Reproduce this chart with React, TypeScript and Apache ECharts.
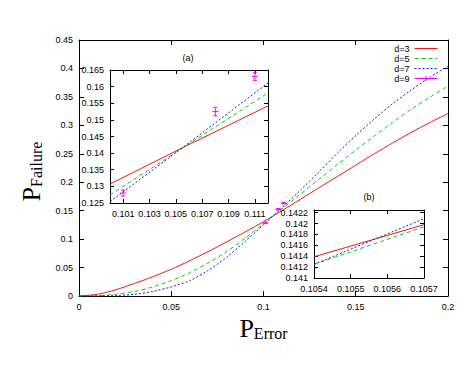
import React, { useEffect, useRef } from 'react';
import * as echarts from 'echarts';

// ---- data ----
const pError = [0, 0.01, 0.02, 0.03, 0.04, 0.05, 0.06, 0.07, 0.08, 0.09, 0.1, 0.11, 0.12, 0.13, 0.14, 0.15, 0.16, 0.17, 0.18, 0.19, 0.2];
const failD3 = [0, 0.003, 0.011, 0.022, 0.034, 0.047, 0.062, 0.078, 0.095, 0.1125, 0.1306, 0.15, 0.17, 0.19, 0.21, 0.23, 0.25, 0.269, 0.2875, 0.3045, 0.321];
const failD5 = [0, 0.0005, 0.003, 0.008, 0.016, 0.027, 0.041, 0.058, 0.078, 0.1015, 0.1274, 0.153, 0.179, 0.205, 0.231, 0.2565, 0.281, 0.305, 0.328, 0.349, 0.369];
const failD7 = [0, 0.0001, 0.0008, 0.003, 0.008, 0.016, 0.027, 0.045, 0.068, 0.096, 0.1254, 0.155, 0.186, 0.218, 0.251, 0.282, 0.311, 0.338, 0.362, 0.384, 0.404];

const d9P = [0.101, 0.108, 0.111];
const d9Fail = [0.128, 0.1525, 0.163];
const d9Err = [0.0009, 0.0013, 0.0012];

const insetAP = [0.1, 0.1055, 0.112];
const insetAD3 = [0.1307, 0.1416, 0.1542];
const insetAD5 = [0.1274, 0.1415, 0.1581];
const insetAD7 = [0.1254, 0.1416, 0.1611];

const insetBP = [0.1054, 0.1057];
const insetBD3 = [0.14139, 0.14198];
const insetBD5 = [0.14125, 0.14194];
const insetBD7 = [0.14125, 0.14209];

const insetAXTicks = [0.101, 0.103, 0.105, 0.107, 0.109, 0.111];
const insetBXTicks = [0.1054, 0.1055, 0.1056, 0.1057];
const insetBYTicks = [0.141, 0.1412, 0.1414, 0.1416, 0.1418, 0.142, 0.1422];

const seriesNames = ['d=3', 'd=5', 'd=7', 'd=9'];
const colors = ['#f01818', '#10cc10', '#1818f0', '#ff00ff'];
const dashes: any[] = ['solid', [4, 3], [2, 2]];

const zip = (xs: number[], ys: number[]) => xs.map((x, i) => [x, ys[i]]);

const labelFont = { color: '#000', fontSize: 9, fontFamily: 'Liberation Sans' };

const nameRich = {
  p: { fontFamily: 'Liberation Serif', fontSize: 26, color: '#000', verticalAlign: 'bottom', lineHeight: 26 },
  s: { fontFamily: 'Liberation Serif', fontSize: 16, color: '#000', verticalAlign: 'bottom', lineHeight: 10 },
};

function makeAxis(gridIndex: number, position: string, range: any, tickLen: number, custom?: number[], extra: any = {}) {
  const showLabel = position === 'bottom' || position === 'left';
  const axisLabel: any = { show: showLabel, margin: 6, ...labelFont };
  const axisTick: any = { show: true, inside: true, length: tickLen, lineStyle: { color: '#000', width: 1 } };
  if (custom) {
    axisLabel.customValues = custom;
    axisTick.customValues = custom;
  }
  return {
    type: 'value',
    gridIndex,
    position,
    ...range,
    axisLine: { show: true, onZero: false, lineStyle: { color: '#000', width: 1 } },
    axisTick,
    axisLabel,
    splitLine: { show: false },
    ...extra,
  };
}

function errorBarRender(params: any, api: any) {
  const x = api.value(0);
  const y = api.value(1);
  const e = api.value(2);
  const c = api.coord([x, y]);
  const t = api.coord([x, y + e]);
  const b = api.coord([x, y - e]);
  const st = { stroke: '#ff00ff', lineWidth: 1, fill: 'none' };
  return {
    type: 'group',
    children: [
      { type: 'line', shape: { x1: t[0], y1: t[1], x2: b[0], y2: b[1] }, style: st },
      { type: 'line', shape: { x1: t[0] - 2, y1: t[1], x2: t[0] + 2, y2: t[1] }, style: st },
      { type: 'line', shape: { x1: b[0] - 2, y1: b[1], x2: b[0] + 2, y2: b[1] }, style: st },
      { type: 'line', shape: { x1: c[0] - 3, y1: c[1], x2: c[0] + 3, y2: c[1] }, style: st },
    ],
  };
}

export default function App() {
  const ref = useRef<HTMLDivElement>(null);
  useEffect(() => {
    if (!ref.current) return;
    const chart = echarts.init(ref.current, null, { renderer: 'svg' });

    const mainX = { min: 0, max: 0.2, interval: 0.05 };
    const mainY = { min: 0, max: 0.45, interval: 0.05 };
    const aX = { min: 0.1, max: 0.112 };
    const aY = { min: 0.125, max: 0.165, interval: 0.005 };
    const bX = { min: 0.1054, max: 0.1057 };
    const bY = { min: 0.141, max: 0.14225 };

    const lineSeries = (name: string, idx: number, data: number[][], axisIdx: number, smooth: any) => ({
      type: 'line',
      name,
      xAxisIndex: axisIdx,
      yAxisIndex: axisIdx,
      data,
      symbol: 'none',
      smooth,
      clip: true,
      lineStyle: { color: colors[idx], width: 1, type: dashes[idx] },
      itemStyle: { color: colors[idx] },
      z: 3,
    });

    const d9Data = d9P.map((p, i) => [p, d9Fail[i], d9Err[i]]);

    const option: any = {
      animation: false,
      backgroundColor: '#fff',
      grid: [
        { left: 79, top: 40, width: 369, height: 256, containLabel: false },
        { left: 110, top: 70, width: 158, height: 133, show: true, backgroundColor: '#fff', borderWidth: 0, z: 5 },
        { left: 314, top: 210, width: 110, height: 68, show: true, backgroundColor: '#fff', borderWidth: 0, z: 5 },
      ],
      xAxis: [
        makeAxis(0, 'bottom', mainX, 5, undefined, {
          name: '{p|P}{s|Error}',
          nameLocation: 'middle',
          nameGap: 6,
          nameTextStyle: { rich: nameRich },
        }),
        makeAxis(0, 'top', mainX, 5),
        makeAxis(1, 'bottom', aX, 4, insetAXTicks, { z: 6 }),
        makeAxis(1, 'top', aX, 4, insetAXTicks, { z: 6 }),
        makeAxis(2, 'bottom', bX, 4, insetBXTicks, { z: 6 }),
        makeAxis(2, 'top', bX, 4, insetBXTicks, { z: 6 }),
      ],
      yAxis: [
        makeAxis(0, 'left', mainY, 5, undefined, {
          name: '{p|P}{s|Failure}',
          nameLocation: 'middle',
          nameGap: 28,
          nameTextStyle: { padding: [0, 7, 0, 0], rich: nameRich },
        }),
        makeAxis(0, 'right', mainY, 5),
        makeAxis(1, 'left', aY, 4, undefined, { z: 6 }),
        makeAxis(1, 'right', aY, 4, undefined, { z: 6 }),
        makeAxis(2, 'left', bY, 4, insetBYTicks, { z: 6 }),
        makeAxis(2, 'right', bY, 4, insetBYTicks, { z: 6 }),
      ],
      legend: {
        data: [
          { name: 'd=3', itemStyle: { opacity: 0 } },
          { name: 'd=5', itemStyle: { opacity: 0 } },
          { name: 'd=7', itemStyle: { opacity: 0 } },
          { name: 'd=9', icon: 'path://M0,3h23v1H0z M11,1h1v5h-1z' },
        ],
        orient: 'vertical',
        right: 36,
        top: 44,
        align: 'right',
        itemWidth: 23,
        itemHeight: 7,
        itemGap: 1,
        padding: 0,
        selectedMode: false,
        lineStyle: { width: 1 },
        textStyle: { ...labelFont, padding: 0 },
      },
      graphic: [
        { type: 'text', x: 188, y: 58, style: { text: '(a)', align: 'center', verticalAlign: 'middle', fontSize: 9, fontFamily: 'Liberation Sans', fill: '#000' } },
        { type: 'text', x: 369, y: 197, style: { text: '(b)', align: 'center', verticalAlign: 'middle', fontSize: 9, fontFamily: 'Liberation Sans', fill: '#000' } },
      ],
      series: [
        lineSeries(seriesNames[0], 0, zip(pError, failD3), 0, 0.3),
        lineSeries(seriesNames[1], 1, zip(pError, failD5), 0, 0.3),
        lineSeries(seriesNames[2], 2, zip(pError, failD7), 0, 0.3),
        {
          type: 'custom', name: seriesNames[3], xAxisIndex: 0, yAxisIndex: 0,
          data: d9Data, renderItem: errorBarRender, itemStyle: { color: colors[3] },
          encode: { x: 0, y: 1 }, z: 4,
        },
        { ...lineSeries(seriesNames[0], 0, zip(insetAP, insetAD3), 2, false), xAxisIndex: 2, yAxisIndex: 2, z: 7 },
        { ...lineSeries(seriesNames[1], 1, zip(insetAP, insetAD5), 2, false), xAxisIndex: 2, yAxisIndex: 2, z: 7 },
        { ...lineSeries(seriesNames[2], 2, zip(insetAP, insetAD7), 2, false), xAxisIndex: 2, yAxisIndex: 2, z: 7 },
        {
          type: 'custom', name: seriesNames[3], xAxisIndex: 2, yAxisIndex: 2,
          data: d9Data, renderItem: errorBarRender, itemStyle: { color: colors[3] },
          encode: { x: 0, y: 1 }, z: 7,
        },
        { ...lineSeries(seriesNames[0], 0, zip(insetBP, insetBD3), 4, false), xAxisIndex: 4, yAxisIndex: 4, z: 7 },
        { ...lineSeries(seriesNames[1], 1, zip(insetBP, insetBD5), 4, false), xAxisIndex: 4, yAxisIndex: 4, z: 7 },
        { ...lineSeries(seriesNames[2], 2, zip(insetBP, insetBD7), 4, false), xAxisIndex: 4, yAxisIndex: 4, z: 7 },
      ],
    };
    chart.setOption(option);
    return () => chart.dispose();
  }, []);
  return <div ref={ref} style={{ width: 474, height: 366, position: 'absolute', left: 0, top: 0 }} />;
}
